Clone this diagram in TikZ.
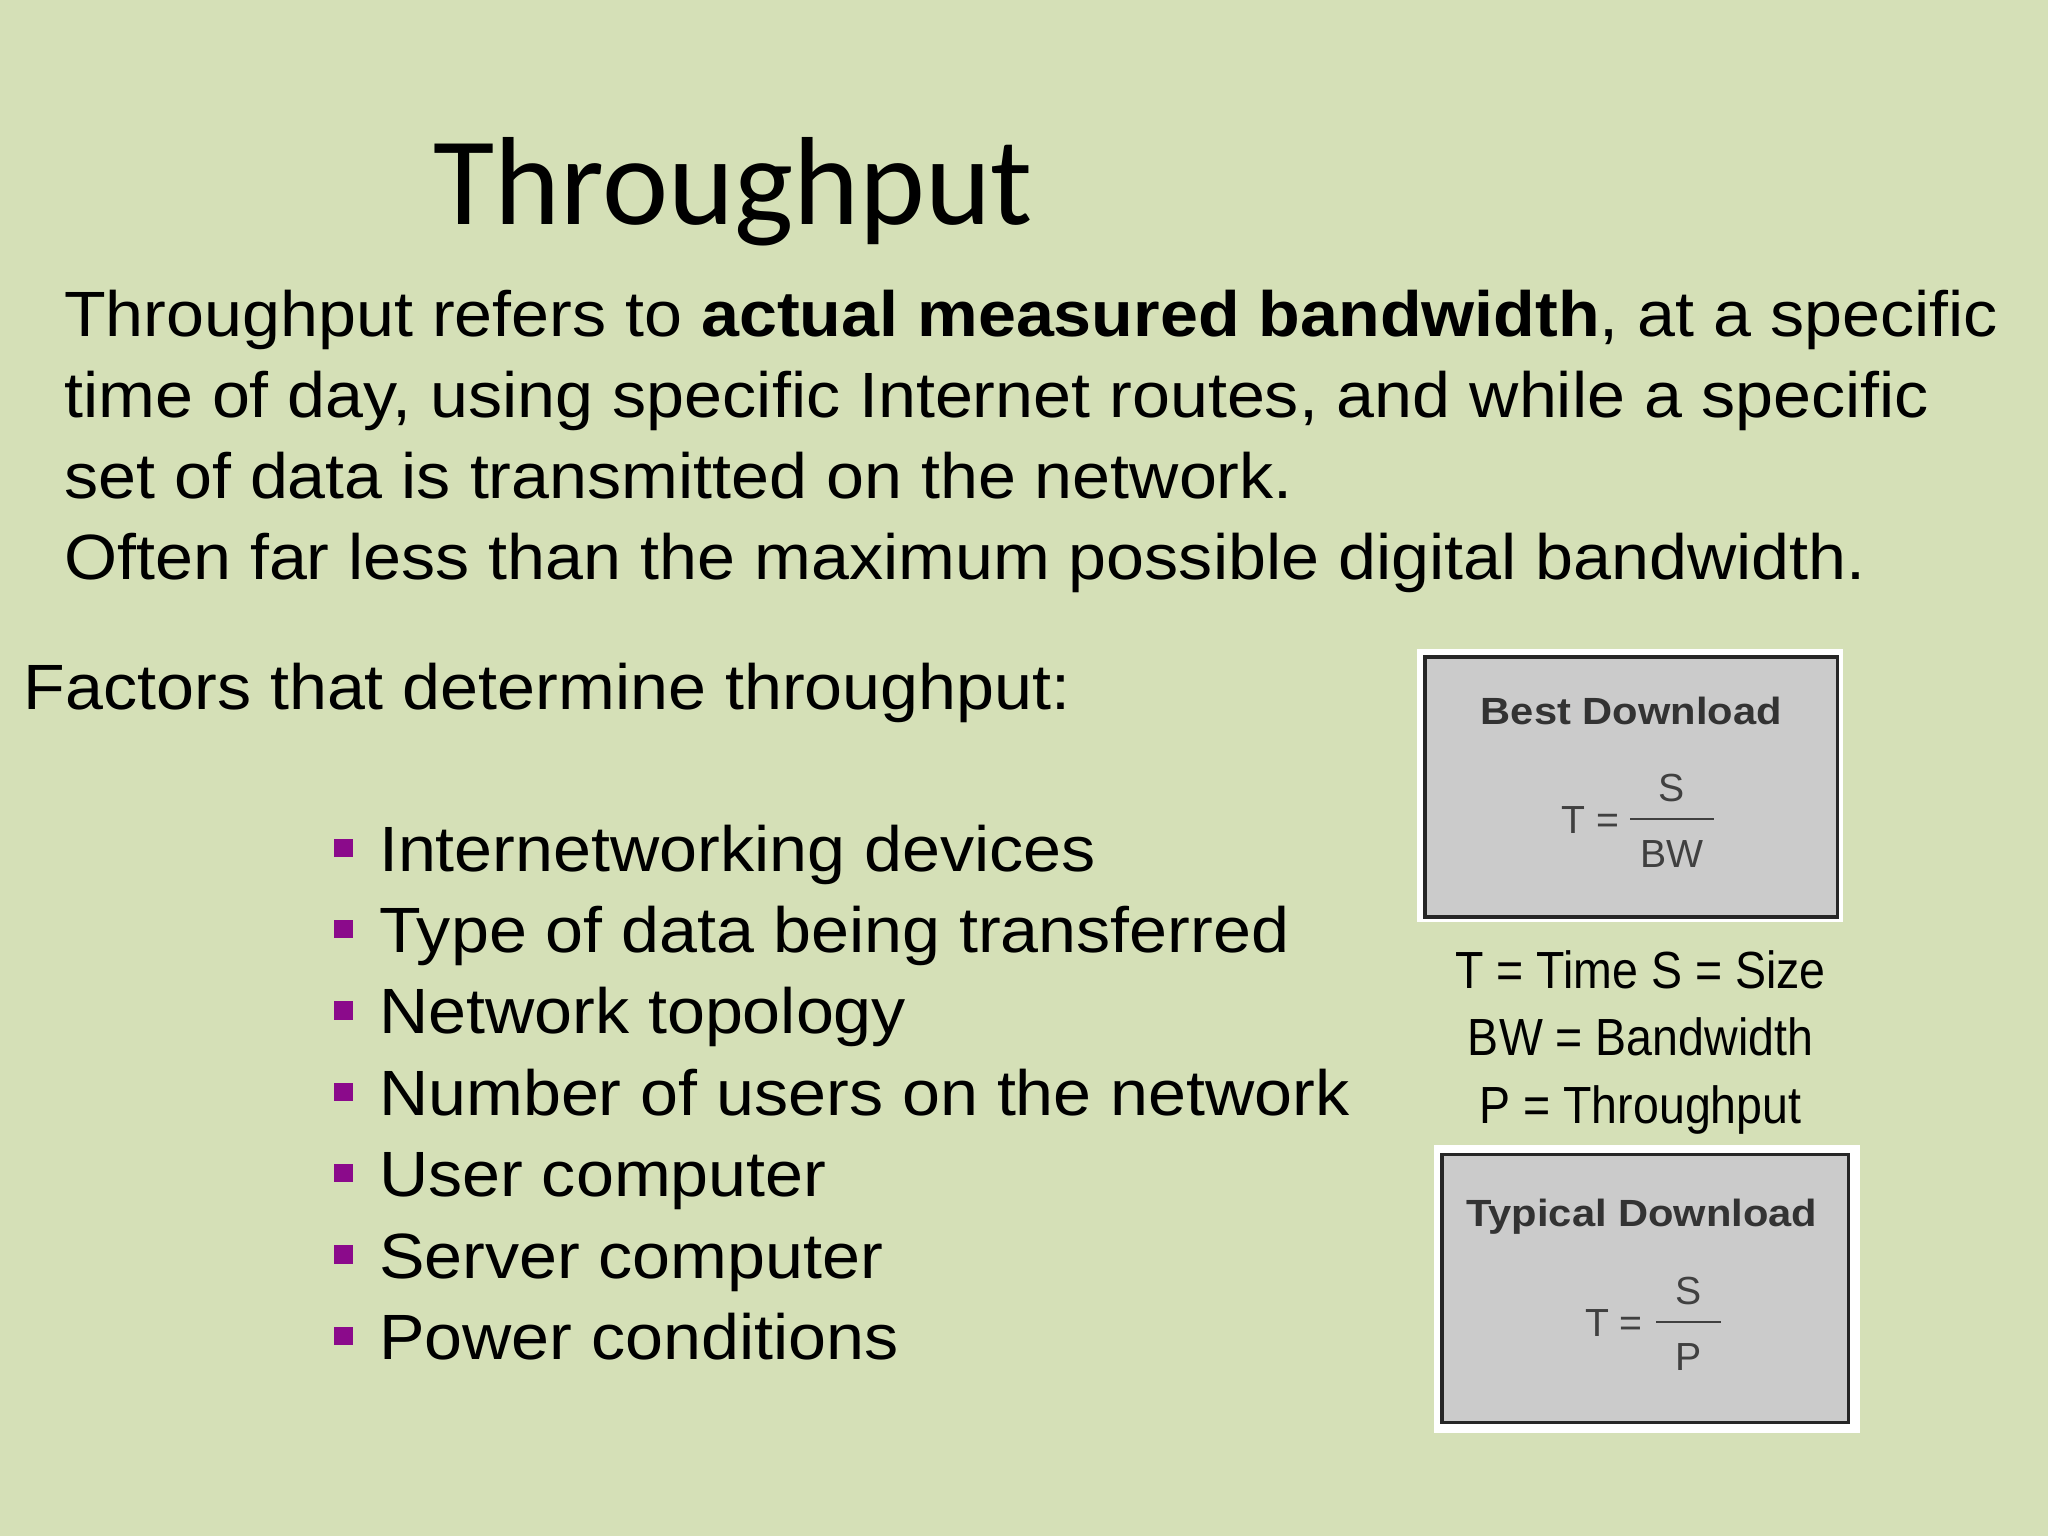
\documentclass[tikz,border=0pt]{standalone}
\usepackage{fontspec}
\setmainfont{Liberation Sans}
\newfontfamily\titlefont{Carlito}
\definecolor{bg}{HTML}{D5E0B7}
\definecolor{boxg}{HTML}{CBCBCB}
\definecolor{bul}{HTML}{8B0A8B}
\begin{document}
\begin{tikzpicture}[x=1pt,y=-1pt,
 body/.style={anchor=base west,inner sep=0pt,font=\fontsize{49}{58}\selectfont,xscale=1.066},
 bitem/.style={body},
 bsq/.style={fill=bul,minimum size=14pt,inner sep=0pt},
 outerbox/.style={fill=white,draw=none},
 innerbox/.style={fill=boxg,draw=black!85,line width=2.5pt},
 boxt/.style={font=\fontsize{29}{30}\selectfont\bfseries,text=black!80,inner sep=0pt,anchor=base,xscale=1.1},
 formula/.style={font=\fontsize{30}{32}\selectfont,text=black!75,inner sep=0pt},
 leg/.style={anchor=base,inner sep=0pt,font=\fontsize{40}{44}\selectfont,xscale=0.89}]
\fill[bg] (0,0) rectangle (1568,1176);
\useasboundingbox (0,0) rectangle (1568,1176);
\node[anchor=base west,inner sep=0pt,font=\titlefont\fontsize{96}{100}\selectfont] (title) at (332,172) {Throughput};
\node[body] (l1) at (49,258) {Throughput refers to \textbf{actual measured bandwidth}, at a specific};
\node[body] (l2) at (49,320) {time of day, using specific Internet routes, and while a specific};
\node[body] (l3) at (49,382) {set of data is transmitted on the network.};
\node[body] (l4) at (49,444) {Often far less than the maximum possible digital bandwidth.};
\node[body] (f) at (18,543) {Factors that determine throughput:};
\foreach \t [count=\i] in {Internetworking devices,Type of data being transferred,Network topology,Number of users on the network,User computer,Server computer,Power conditions}{
 \node[bitem] (b\i) at (290,{667+62.3*(\i-1)}) {\t};
 \node[bsq] (s\i) at (263,{667+62.3*(\i-1)-18}) {};
}
% box 1
\fill[outerbox] (1085,497) rectangle (1411,706);
\draw[innerbox] (1091,503) rectangle (1407,702);
\node[boxt] (bt1) at (1249,555) {Best Download};
\node[formula,anchor=east] (t1) at (1240,628) {T =};
\node[formula,anchor=base] (n1) at (1280,614) {S};
\node[formula,anchor=base] (d1) at (1280,664) {BW};
\draw[black!75,line width=1.5pt] (1248,627) -- (1312,627);
% legend
\node[leg] (g1) at (1256,757) {T = Time S = Size};
\node[leg] (g2) at (1256,808) {BW = Bandwidth};
\node[leg] (g3) at (1256,860) {P = Throughput};
% box 2
\fill[outerbox] (1098,877) rectangle (1424,1097);
\draw[innerbox] (1104,884) rectangle (1415,1089);
\node[boxt] (bt2) at (1257,939) {Typical Download};
\node[formula,anchor=east] (t2) at (1258,1013) {T =};
\node[formula,anchor=base] (n2) at (1293,999) {S};
\node[formula,anchor=base] (d2) at (1293,1049) {P};
\draw[black!75,line width=1.5pt] (1268,1012) -- (1318,1012);
\end{tikzpicture}
\end{document}
